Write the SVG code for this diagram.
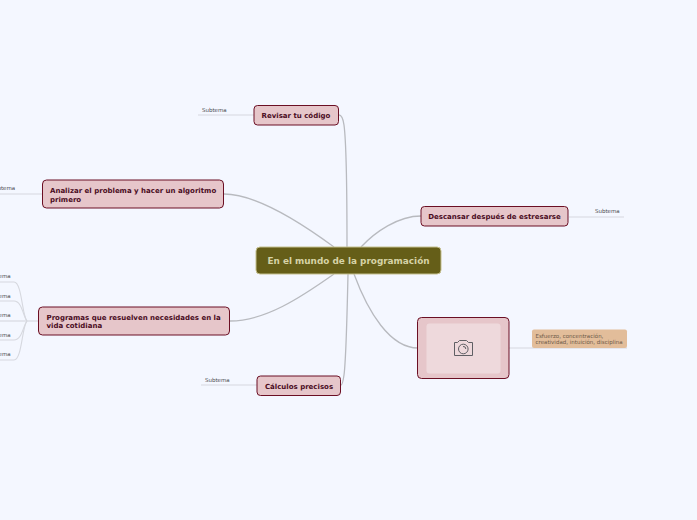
<svg xmlns="http://www.w3.org/2000/svg" width="697" height="520" viewBox="0 0 697 520">
<style>
.bg{fill:#f4f7ff}
.c{fill:none;stroke:#b8babf;stroke-width:1.3}
.s{fill:none;stroke:#d6d8df;stroke-width:1.1}
.n{fill:#e6c6ca;stroke:#6b0f24;stroke-width:1}
text{font-family:"DejaVu Sans",Verdana,sans-serif}
.t{font-size:7px;font-weight:700;fill:#4a0c1e}
.st{font-size:5.500px;fill:#4a4a4f}
.nt{font-size:5.500px;fill:#6d5a48}
</style>
<rect class="bg" width="697" height="520"/>
<g id="connectors">
<path class="c" d="M347 247C347 200 346 140 344 125C343 118 341 115 339 115"/>
<path class="c" d="M334 247C300 222 255 194 224 194"/>
<path class="c" d="M361 247C375 232 398 216 421 216"/>
<path class="c" d="M334 274C300 298 265 321 230 321"/>
<path class="c" d="M348 274C347 320 346 360 344 375C343 382 342 385 341 385"/>
<path class="c" d="M354 274C368 312 390 348 418 348"/>
<path class="s" d="M254 115H198"/>
<path class="s" d="M42 194H-5"/>
<path class="s" d="M569 217H624"/>
<path class="s" d="M257 385H201"/>
<path class="s" d="M509 348H627"/>
<path class="s" d="M38 321H27"/>
<path class="s" d="M27 321C22 316 22 282 14 282H-5"/>
<path class="s" d="M27 321C23 316 22 301 14 301H-5"/>
<path class="s" d="M27 321H-5"/>
<path class="s" d="M27 321C23 326 22 340 14 340H-5"/>
<path class="s" d="M27 321C22 326 22 360 14 360H-5"/>
</g>
<g id="node-center">
<rect x="256" y="247" width="185" height="27" rx="4" fill="#655e18" stroke="#c5c08e" stroke-width="1"/>
<text x="348.500" y="264" text-anchor="middle" font-size="8.900" font-weight="700" fill="#d6d3a6">En el mundo de la programación</text>
</g>
<g id="node-revisar">
<rect class="n" x="254" y="105.500" width="84.500" height="19.500" rx="3.500"/>
<text class="t" x="296" y="118" text-anchor="middle">Revisar tu código</text>
<text class="st" x="202" y="111.500">Subtema</text>
</g>
<g id="node-analizar">
<rect class="n" x="42.500" y="180" width="181" height="28" rx="4"/>
<text class="t" x="50" y="193">Analizar el problema y hacer un algoritmo</text>
<text class="t" x="50" y="201.500">primero</text>
<text class="st" x="-9.500" y="190">Subtema</text>
</g>
<g id="node-programas">
<rect class="n" x="38.500" y="307" width="191" height="28" rx="4"/>
<text class="t" x="46.500" y="320">Programas que resuelven necesidades en la</text>
<text class="t" x="46.500" y="328">vida cotidiana</text>
<text class="st" x="-14" y="278">Subtema</text>
<text class="st" x="-14" y="298">Subtema</text>
<text class="st" x="-14" y="317">Subtema</text>
<text class="st" x="-14" y="337">Subtema</text>
<text class="st" x="-14" y="356">Subtema</text>
</g>
<g id="node-descansar">
<rect class="n" x="421" y="206.500" width="147" height="19.500" rx="3.500"/>
<text class="t" x="494.500" y="219" text-anchor="middle">Descansar después de estresarse</text>
<text class="st" x="595" y="212.500">Subtema</text>
</g>
<g id="node-calculos">
<rect class="n" x="257" y="376" width="83.500" height="19.500" rx="3.500"/>
<text class="t" x="299" y="389" text-anchor="middle">Cálculos precisos</text>
<text class="st" x="205" y="381.500">Subtema</text>
</g>
<g id="node-imagen">
<rect class="n" x="417.500" y="317.500" width="91.500" height="61" rx="4"/>
<rect x="426.500" y="323.500" width="74" height="50" rx="3" fill="#eed9dc"/>
<g fill="none" stroke="#5f5f64" stroke-width="1" stroke-linejoin="round">
<path d="M454.500 342.500H457.500L459.500 340.500H466.500L468.500 342.500H472.500V355.500H454.500V342.500Z"/>
<circle cx="463.300" cy="349" r="4.800"/>
<path d="M463 346.500A2.500 2.500 0 0 1 465.800 349"/>
</g>
</g>
<g id="node-nota">
<rect x="532" y="329.500" width="95" height="18.500" rx="2" fill="#e2bd9a"/>
<text class="nt" x="535.500" y="337.500">Esfuerzo, concentración,</text>
<text class="nt" x="535.500" y="344">creatividad, intuición, disciplina</text>
</g>
</svg>
